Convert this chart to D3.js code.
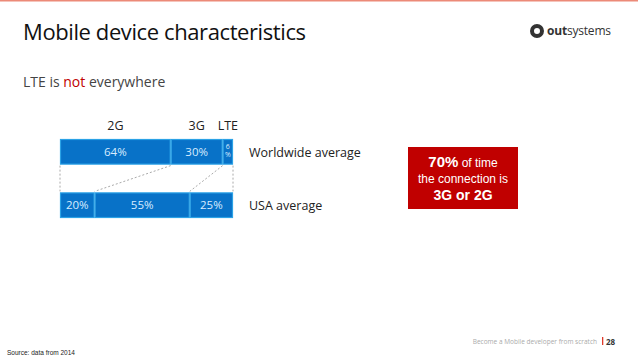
<!DOCTYPE html>
<html>
<head>
<meta charset="utf-8">
<script src="https://cdn.jsdelivr.net/npm/d3@7"></script>
<style>
  body { margin: 0; background: #fff; }
  svg { display: block; }
</style>
</head>
<body>
<script>
// Data
var categories = ['2G', '3G', 'LTE'],
    regions    = ['Worldwide average', 'USA average'],
    worldwide  = [64, 30, 6],
    usa        = [20, 55, 25],
    calloutLines = ['70%', ' of time', 'the connection is', '3G or 2G'];

var width = 638, height = 359;

var svg = d3.select('body').append('svg')
    .attr('width', width)
    .attr('height', height);

// top accent line
svg.append('rect').attr('x', 0).attr('y', 0).attr('width', width).attr('height', 1.5).attr('fill', '#ec8a78');

// Title
svg.append('text')
    .attr('x', 23).attr('y', 40)
    .style('font-family', 'Open Sans')
    .style('font-size', '22px')
    .style('letter-spacing', '-0.4px')
    .attr('fill', '#111')
    .text('Mobile device characteristics');

// Subtitle
var sub = svg.append('text')
    .attr('x', 23).attr('y', 87)
    .style('font-family', 'Open Sans')
    .style('font-size', '14px')
    .attr('fill', '#444');
sub.append('tspan').text('LTE is ');
sub.append('tspan').attr('fill', '#c00000').text('not');
sub.append('tspan').text(' everywhere');

// logo
var logo = svg.append('g').attr('transform', 'translate(537,31)');
logo.append('circle').attr('r', 5).attr('fill', 'none').attr('stroke', '#333').attr('stroke-width', 4);
var lt = logo.append('text').attr('x', 10).attr('y', 4)
    .style('font-family', 'Open Sans').style('font-size', '12px').style('letter-spacing', '-0.2px').attr('fill', '#333');
lt.append('tspan').style('font-weight', 'bold').text('out');
lt.append('tspan').text('systems');

// Bars
var x = d3.scaleLinear().domain([0, 100]).range([60, 233]);
var y = d3.scaleBand().domain(regions).range([139, 218]).paddingInner(0.52);

var rows = [worldwide, usa].map(function(vals, r) {
    var acc = 0;
    return vals.map(function(v, i) {
        var d = { region: regions[r], cat: categories[i], value: v, x0: acc, x1: acc + v };
        acc += v;
        return d;
    });
});

// dotted connectors
var top0 = rows[0], bot0 = rows[1];
var yTopB = y(regions[0]) + y.bandwidth(), yBotT = y(regions[1]);
var links = [[0, 0]].concat(top0.map(function(d, i) { return [d.x1, bot0[i].x1]; }));
svg.selectAll('.link').data(links).enter().append('line')
    .attr('class', 'link')
    .attr('x1', function(d) { return x(d[0]); })
    .attr('x2', function(d) { return x(d[1]); })
    .attr('y1', yTopB + 1)
    .attr('y2', yBotT - 1)
    .attr('stroke', '#aaa')
    .attr('stroke-width', 1)
    .attr('stroke-dasharray', '2,2');

var rowG = svg.selectAll('.row').data(rows).enter().append('g').attr('class', 'row');

rowG.selectAll('rect').data(function(d) { return d; }).enter().append('rect')
    .attr('x', function(d) { return x(d.x0) + 0.5; })
    .attr('y', function(d) { return y(d.region) + 0.5; })
    .attr('width', function(d) { return x(d.x1) - x(d.x0) - 1; })
    .attr('height', y.bandwidth() - 1)
    .attr('fill', '#0872c8')
    .attr('stroke', '#2ba2e6')
    .attr('stroke-width', 1.2);

rowG.selectAll('.lbl').data(function(d) { return d.filter(function(e) { return e.value >= 10; }); })
    .enter().append('text')
    .attr('class', 'lbl')
    .attr('x', function(d) { return (x(d.x0) + x(d.x1)) / 2; })
    .attr('y', function(d) { return y(d.region) + y.bandwidth() / 2 + 4; })
    .attr('text-anchor', 'middle')
    .style('font-family', 'Open Sans')
    .style('font-size', '11.5px')
    .attr('fill', '#d8ecff')
    .text(function(d) { return d.value + '%'; });

// small segment label stacked
rowG.selectAll('.sm').data(function(d) { return d.filter(function(e) { return e.value < 10; }); })
    .enter().append('text')
    .attr('class', 'sm')
    .attr('x', function(d) { return (x(d.x0) + x(d.x1)) / 2; })
    .attr('y', function(d) { return y(d.region) + 10; })
    .attr('text-anchor', 'middle')
    .style('font-family', 'Open Sans')
    .style('font-size', '7px')
    .attr('fill', '#d8ecff')
    .each(function(d) {
        d3.select(this).append('tspan').attr('x', (x(d.x0) + x(d.x1)) / 2).text(d.value);
        d3.select(this).append('tspan').attr('x', (x(d.x0) + x(d.x1)) / 2).attr('dy', 8).text('%');
    });

// category labels above worldwide bar
svg.selectAll('.cat').data(top0).enter().append('text')
    .attr('class', 'cat')
    .attr('x', function(d) { return (x(d.x0) + x(d.x1)) / 2; })
    .attr('y', 130)
    .attr('text-anchor', 'middle')
    .style('font-family', 'Open Sans')
    .style('font-size', '12.5px')
    .attr('fill', '#222')
    .text(function(d) { return d.cat; });

// region labels
svg.selectAll('.reg').data(regions).enter().append('text')
    .attr('class', 'reg')
    .attr('x', 249)
    .attr('y', function(d) { return y(d) + y.bandwidth() / 2 + 5; })
    .style('font-family', 'Open Sans')
    .style('font-size', '12.5px')
    .attr('fill', '#222')
    .text(function(d) { return d; });

// callout box
svg.append('rect').attr('x', 408).attr('y', 147).attr('width', 110).attr('height', 62).attr('fill', '#c00000');
var c1 = svg.append('text').attr('x', 463).attr('y', 167).attr('text-anchor', 'middle')
    .style('font-family', 'Liberation Sans, Arial').attr('fill', '#fff');
c1.append('tspan').style('font-size', '15px').style('font-weight', 'bold').text(calloutLines[0]);
c1.append('tspan').style('font-size', '12px').text(calloutLines[1]);
svg.append('text').attr('x', 463).attr('y', 183).attr('text-anchor', 'middle')
    .style('font-family', 'Liberation Sans, Arial').style('font-size', '12px').attr('fill', '#fff')
    .text(calloutLines[2]);
svg.append('text').attr('x', 463).attr('y', 200).attr('text-anchor', 'middle')
    .style('font-family', 'Liberation Sans, Arial').style('font-size', '14px').style('font-weight', 'bold')
    .attr('fill', '#fff').text(calloutLines[3]);

// footer
svg.append('text').attr('x', 597).attr('y', 344).attr('text-anchor', 'end')
    .style('font-family', 'Open Sans').style('font-size', '6.5px').attr('fill', '#aaa')
    .text('Become a Mobile developer from scratch');
svg.append('rect').attr('x', 602).attr('y', 337).attr('width', 1.3).attr('height', 8).attr('fill', '#e03a2a');
svg.append('text').attr('x', 606).attr('y', 344.5)
    .style('font-family', 'Open Sans').style('font-size', '8px').style('font-weight', 'bold').attr('fill', '#333')
    .text('28');
svg.append('text').attr('x', 7).attr('y', 355)
    .style('font-family', 'Liberation Sans, Arial').style('font-size', '6.5px').attr('fill', '#222')
    .text('Source: data from 2014');
</script>
</body>
</html>
